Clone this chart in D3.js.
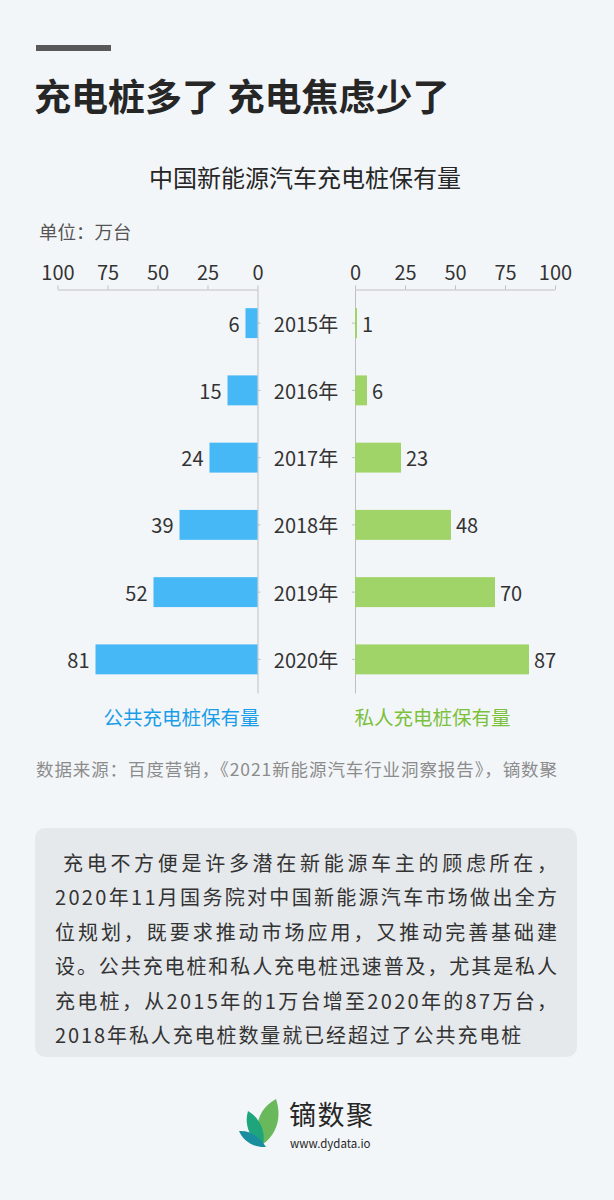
<!DOCTYPE html>
<html><head><meta charset="utf-8">
<script src="https://cdn.jsdelivr.net/npm/d3@7"></script>
<style>
html,body{margin:0;padding:0;background:#f3f6f9;}
svg{display:block;font-family:"Noto Sans CJK SC","Noto Sans",sans-serif;}
</style></head><body>
<svg id="c" width="614" height="1200"></svg>
<script>
const years = ["2015年","2016年","2017年","2018年","2019年","2020年"];
const publicVals = [6, 15, 24, 39, 52, 81];
const privateVals = [1, 6, 23, 48, 70, 87];
const tickVals = [0, 25, 50, 75, 100];
const mainTitle = "充电桩多了 充电焦虑少了";
const chartTitle = "中国新能源汽车充电桩保有量";
const unitLabel = "单位：万台";
const legendPublic = "公共充电桩保有量";
const legendPrivate = "私人充电桩保有量";
const sourceText = "数据来源：百度营销，《2021新能源汽车行业洞察报告》，镝数聚";
const bodyLines = [
  "充电不方便是许多潜在新能源车主的顾虑所在，",
  "2020年11月国务院对中国新能源汽车市场做出全方",
  "位规划，既要求推动市场应用，又推动完善基础建",
  "设。公共充电桩和私人充电桩迅速普及，尤其是私人",
  "充电桩，从2015年的1万台增至2020年的87万台，",
  "2018年私人充电桩数量就已经超过了公共充电桩"
];

const svg = d3.select("#c");
const blue = "#47b8f6", green = "#a0d468";

svg.append("rect").attr("width",614).attr("height",1200).attr("fill","#f3f6f9");
svg.append("rect").attr("x",36).attr("y",45).attr("width",75).attr("height",6).attr("fill","#595959");
svg.append("text").attr("x",34).attr("y",111).attr("font-size",37).attr("font-weight","bold")
  .attr("fill","#262626").text(mainTitle);

svg.append("text").attr("x",305).attr("y",176).attr("text-anchor","middle").attr("dominant-baseline","central")
  .attr("font-size",24).attr("fill","#262626").text(chartTitle);
svg.append("text").attr("x",39).attr("y",231).attr("dominant-baseline","central")
  .attr("font-size",18.5).attr("fill","#555").text(unitLabel);

const axisTop = 289.5, axisBottom = 693;
const xL = d3.scaleLinear().domain([0,100]).range([257.5,57.5]);
const xR = d3.scaleLinear().domain([0,100]).range([355,555]);
const y = d3.scaleBand().domain(years).range([axisTop,axisBottom]).paddingInner(0.555).paddingOuter(0.2775);

function styleAxis(g){
  g.selectAll("path,line").attr("stroke","#bfbfbf");
  g.selectAll("text").attr("fill","#333").attr("font-size",20).attr("font-family","'Noto Sans CJK SC','Noto Sans',sans-serif");
}
svg.append("g").attr("transform",`translate(0,${axisTop})`)
  .call(d3.axisTop(xL).tickValues(tickVals).tickSize(4).tickSizeOuter(0).tickPadding(6)).call(styleAxis);
svg.append("g").attr("transform",`translate(0,${axisTop})`)
  .call(d3.axisTop(xR).tickValues(tickVals).tickSize(4).tickSizeOuter(0).tickPadding(6)).call(styleAxis);

svg.append("g").attr("transform",`translate(${xL(0)},0)`)
  .call(d3.axisRight(y).tickSize(3).tickSizeOuter(0).tickFormat("")).call(styleAxis);
svg.append("g").attr("transform",`translate(${xR(0)},0)`)
  .call(d3.axisLeft(y).tickSize(3).tickSizeOuter(0).tickFormat("")).call(styleAxis);

svg.append("g").selectAll("rect").data(years).join("rect")
  .attr("x",(d,i)=>xL(publicVals[i])).attr("y",d=>y(d))
  .attr("width",(d,i)=>xL(0)-xL(publicVals[i])).attr("height",y.bandwidth()).attr("fill",blue);
svg.append("g").selectAll("rect").data(years).join("rect")
  .attr("x",xR(0)).attr("y",d=>y(d))
  .attr("width",(d,i)=>xR(privateVals[i])-xR(0)).attr("height",y.bandwidth()).attr("fill",green);

svg.append("g").selectAll("text").data(years).join("text")
  .attr("x",(d,i)=>xL(publicVals[i])-6).attr("y",d=>y(d)+y.bandwidth()/2)
  .attr("text-anchor","end").attr("dominant-baseline","central").attr("font-size",20).attr("fill","#333")
  .text((d,i)=>publicVals[i]);
svg.append("g").selectAll("text").data(years).join("text")
  .attr("x",(d,i)=>xR(privateVals[i])+5).attr("y",d=>y(d)+y.bandwidth()/2)
  .attr("dominant-baseline","central").attr("font-size",20).attr("fill","#333")
  .text((d,i)=>privateVals[i]);
svg.append("g").selectAll("text").data(years).join("text")
  .attr("x",306).attr("y",d=>y(d)+y.bandwidth()/2)
  .attr("text-anchor","middle").attr("dominant-baseline","central").attr("font-size",20).attr("fill","#333")
  .text(d=>d);

svg.append("text").attr("x",181.5).attr("y",716).attr("text-anchor","middle").attr("dominant-baseline","central")
  .attr("font-size",19.5).attr("fill","#1a9de8").text(legendPublic);
svg.append("text").attr("x",432.5).attr("y",716).attr("text-anchor","middle").attr("dominant-baseline","central")
  .attr("font-size",19.5).attr("fill","#7cc13c").text(legendPrivate);

svg.append("text").attr("x",36).attr("y",768).attr("dominant-baseline","central")
  .attr("font-size",17.5).attr("fill","#8c8c8c").attr("textLength",521).attr("lengthAdjust","spacing").text(sourceText);

svg.append("rect").attr("x",35).attr("y",828).attr("width",542).attr("height",229).attr("rx",10).attr("fill","#e6e9ec");
const lineY = [862, 896.5, 931, 965.5, 1000, 1034.5];
bodyLines.forEach((t,i)=>{
  const x0 = i===0 ? 63 : 55;
  const tx = svg.append("text").attr("x",x0).attr("y",lineY[i]).attr("dominant-baseline","central")
    .attr("font-size",20).attr("fill","#333").text(t);
  if(i<5){ tx.attr("textLength",557-x0).attr("lengthAdjust","spacing"); }
  else { tx.attr("letter-spacing",1.9); }
});

// logo
const lg = svg.append("g");
lg.append("path").attr("d","M263,1144 C253,1128 257,1110 276,1099 C282,1117 277,1134 263,1144 Z").attr("fill","#6ab85c");
lg.append("path").attr("d","M263,1145 C249,1139 244,1124 248,1111 C260,1118 266,1132 263,1145 Z").attr("fill","#1fa57c");
lg.append("path").attr("d","M266,1147 C254,1148 243,1141 239,1131 C250,1130 260,1137 266,1147 Z").attr("fill","#1a8e9e");
svg.append("text").attr("x",289).attr("y",1113).attr("dominant-baseline","central")
  .attr("font-size",27).attr("fill","#262626").attr("letter-spacing",1.5).text("镝数聚");
svg.append("text").attr("x",290).attr("y",1143).attr("dominant-baseline","central")
  .attr("font-size",11.5).attr("fill","#262626").text("www.dydata.io");
</script></body></html>
